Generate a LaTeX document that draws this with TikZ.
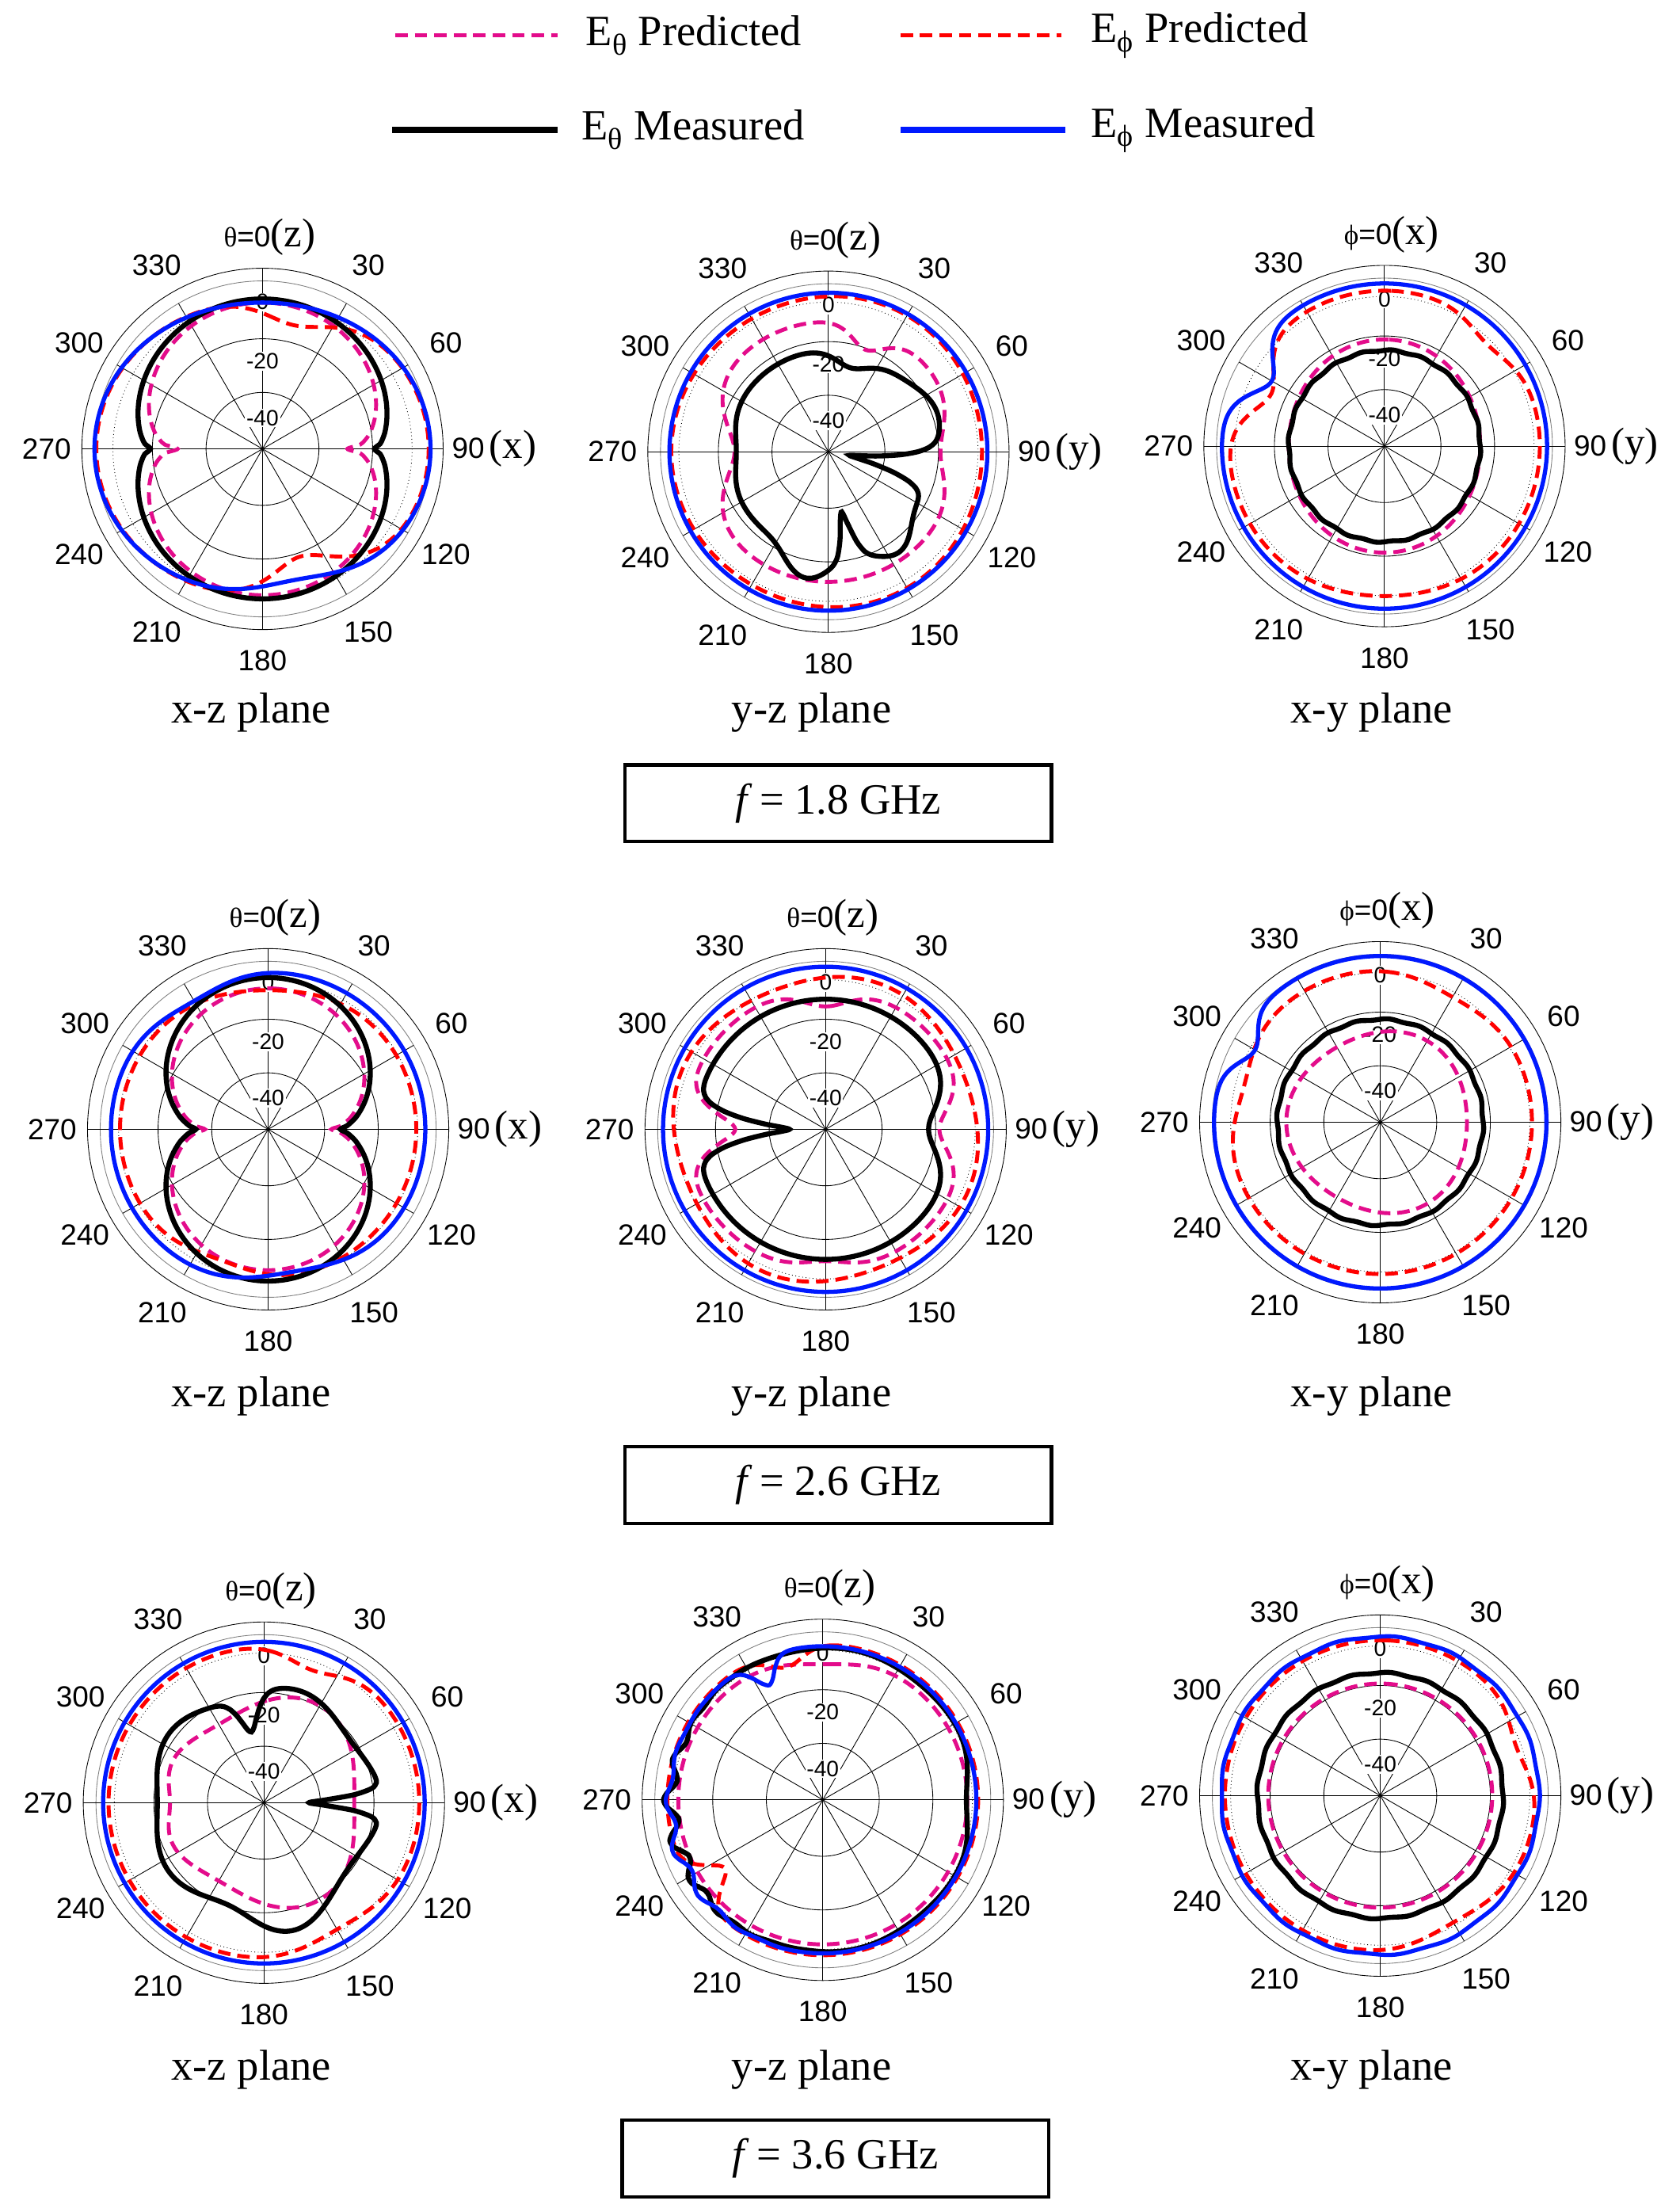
\documentclass[tikz,border=0pt]{standalone}
\usepackage{fontspec}
\setmainfont{Liberation Serif}
\newfontfamily\lab{Liberation Sans}
\begin{document}
\begin{tikzpicture}[x=0.0356cm,y=-0.0356cm,
  declare function={gb(\t,\c,\w)=exp(-((mod(\t-\c+540,360)-180)/\w)^2);},
  ethp/.style={magenta!90!violet,line width=2.8pt,dash pattern=on 9pt off 5pt},
  ephp/.style={red,line width=2.8pt,dash pattern=on 9pt off 5pt},
  ethm/.style={black,line width=3.6pt},
  ephm/.style={blue!90!cyan,line width=3pt},
  gridl/.style={black,line width=0.5pt},
  tick/.style={font=\lab\fontsize{21}{21}\selectfont,inner sep=0pt},
  dbl/.style={font=\lab\fontsize{16}{16}\selectfont,inner sep=1pt,fill=white},
  ptxt/.style={font=\fontsize{31}{31}\selectfont,inner sep=0pt},
  fbox/.style={draw,line width=2.5pt,minimum width=306,minimum height=55,font=\fontsize{31}{31}\selectfont}]
\useasboundingbox (0,0) rectangle (1190,1567);
\newcommand\pgrid[5]{% cx cy lettertop letterside topsymbol
  \begin{scope}[shift={(#1,#2)}]
  \draw[gridl] (0,0) circle (128);
  \draw[gridl,gray] (0,0) circle (119);
  \draw[gridl,dotted] (0,0) circle (106);
  \draw[gridl] (0,0) circle (78);
  \draw[gridl] (0,0) circle (40);
  \foreach \a in {0,30,...,330}{\draw[gridl] (0,0) -- ({119*sin(\a)},{-119*cos(\a)});}
  \draw[gridl] (-128,0) -- (128,0); \draw[gridl] (0,-128) -- (0,128);
  \node[dbl] at (0,-104) {0};
  \node[dbl] at (0,-62) {-20};
  \node[dbl] at (0,-22) {-40};
  \foreach \a in {30,60,120,150,180,210,240,300,330}{\node[tick] at ({150*sin(\a)},{-150*cos(\a)}) {\a};}
  \node[tick] at (-153,0) {270};
  \node[tick,anchor=west] at (134,0) {90\,{\rmfamily\fontsize{29}{29}\selectfont(#4)}};
  \node[inner sep=0pt] at (5,-150) {{\rmfamily\fontsize{20}{20}\selectfont #5}{\lab\fontsize{21}{21}\selectfont =0}{\rmfamily\fontsize{29}{29}\selectfont (#3)}};
  \end{scope}}
\newcommand\pcurve[4]{% cx cy style expr
  \draw[#3] plot[smooth cycle,domain=0:357.5,samples=144,variable=\t] ({#1+128*(#4)*sin(\t)},{#2-128*(#4)*cos(\t)});}
% legend
\draw[ethp] (280,25) -- (395,25); \node[ptxt,anchor=west] at (415,25) {E\textsubscript{θ} Predicted};
\draw[ephp] (638,25) -- (752,25); \node[ptxt,anchor=west] at (773,25) {E\textsubscript{ϕ} Predicted};
\draw[ethm,line width=4.5pt] (278,92) -- (395,92); \node[ptxt,anchor=west] at (412,92) {E\textsubscript{θ} Measured};
\draw[ephm,line width=4.5pt] (638,92) -- (755,92); \node[ptxt,anchor=west] at (773,92) {E\textsubscript{ϕ} Measured};
% grids
\pgrid{186}{318}{z}{x}{θ}
\pgrid{587}{320}{z}{y}{θ}
\pgrid{981}{316}{x}{y}{ϕ}
\pgrid{190}{800}{z}{x}{θ}
\pgrid{585}{800}{z}{y}{θ}
\pgrid{978}{795}{x}{y}{ϕ}
\pgrid{187}{1277}{z}{x}{θ}
\pgrid{583}{1275}{z}{y}{θ}
\pgrid{978}{1272}{x}{y}{ϕ}
% row 1
\pcurve{186}{318}{ethp}{0.47+0.34*abs(cos(\t))^0.5}
\pcurve{186}{318}{ephp}{0.92-0.1*cos(\t)^2-0.12*gb(\t,15,20)-0.2*gb(\t,160,22)}
\pcurve{186}{318}{ethm}{0.62+0.21*abs(cos(\t))^0.6}
\pcurve{186}{318}{ephm}{0.93-0.12*cos(\t)^2-0.07*gb(\t,165,25)}
\pcurve{587}{320}{ethp}{0.72-0.2*gb(\t,270,25)-0.1*gb(\t,90,20)-0.12*gb(\t,20,12)}
\pcurve{587}{320}{ephp}{0.86+0.01*sin(3*\t)}
\pcurve{587}{320}{ethm}{0.56+0.08*gb(\t,70,20)-0.45*gb(\t,100,8)+0.12*gb(\t,145,15)-0.25*gb(\t,168,5)+0.15*gb(\t,190,15)-0.05*gb(\t,270,20)-0.08*gb(\t,15,15)}
\pcurve{587}{320}{ephm}{0.88}
\pcurve{981}{316}{ethp}{0.56+0.03*cos(2*\t)}
\pcurve{981}{316}{ephp}{0.86-0.17*gb(\t,295,15)-0.06*gb(\t,45,15)-0.03*gb(\t,180,30)}
\pcurve{981}{316}{ethm}{0.53+0.004*sin(20*\t)}
\pcurve{981}{316}{ephm}{0.9-0.18*gb(\t,300,12)}
% row 2
\pcurve{190}{800}{ethp}{0.35+0.43*abs(cos(\t))^0.7}
\pcurve{190}{800}{ephp}{0.82-0.05*gb(\t,0,30)-0.05*gb(\t,200,20)}
\pcurve{190}{800}{ethm}{0.4+0.44*abs(cos(\t))^0.8}
\pcurve{190}{800}{ephm}{0.87-0.07*gb(\t,170,25)-0.05*gb(\t,330,20)}
\pcurve{585}{800}{ethp}{0.78-0.28*gb(\t,270,12)-0.15*gb(\t,90,15)-0.1*gb(\t,0,15)-0.05*gb(\t,180,15)}
\pcurve{585}{800}{ephp}{0.84+0.02*sin(4*\t)}
\pcurve{585}{800}{ethm}{0.72-0.52*gb(\t,270,9)-0.15*gb(\t,90,18)}
\pcurve{585}{800}{ephm}{0.9}
\pcurve{978}{795}{ethp}{0.5+0.02*sin(3*\t)}
\pcurve{978}{795}{ephp}{0.84-0.06*gb(\t,285,20)-0.04*gb(\t,30,20)}
\pcurve{978}{795}{ethm}{0.57+0.004*sin(20*\t)}
\pcurve{978}{795}{ephm}{0.92-0.12*gb(\t,300,10)}
% row 3
\pcurve{187}{1277}{ethp}{0.56+0.06*sin(3*\t)-0.1*gb(\t,270,20)}
\pcurve{187}{1277}{ephp}{0.86-0.08*gb(\t,20,15)-0.05*gb(\t,150,20)}
\pcurve{187}{1277}{ethm}{0.62-0.4*gb(\t,90,5)-0.2*gb(\t,350,8)+0.08*gb(\t,170,20)+0.03*sin(5*\t)}
\pcurve{187}{1277}{ephm}{0.89}
\pcurve{583}{1275}{ethp}{0.8-0.05*gb(\t,0,20)}
\pcurve{583}{1275}{ephp}{0.86-0.2*gb(\t,235,8)-0.1*gb(\t,345,10)}
\pcurve{583}{1275}{ethm}{0.84+0.04*sin(23*\t)*gb(\t,260,35)-0.04*gb(\t,90,15)+0.005*sin(7*\t)}
\pcurve{583}{1275}{ephm}{0.85+0.03*sin(19*\t)*gb(\t,250,30)-0.15*gb(\t,335,6)}
\pcurve{978}{1272}{ethp}{0.62}
\pcurve{978}{1272}{ephp}{0.86-0.06*gb(\t,70,15)-0.05*gb(\t,150,20)}
\pcurve{978}{1272}{ethm}{0.68+0.004*sin(20*\t)}
\pcurve{978}{1272}{ephm}{0.88+0.004*sin(17*\t)}
% plane labels
\foreach \y in {505,989,1466}{
  \node[ptxt] at (178,\y) {x-z plane};
  \node[ptxt] at (575,\y) {y-z plane};
  \node[ptxt] at (972,\y) {x-y plane};}
\node[fbox] (b1) at (594,569) {\textit{f}\,= 1.8 GHz};
\node[fbox] (b2) at (594,1052) {\textit{f}\,= 2.6 GHz};
\node[fbox] (b3) at (592,1529) {\textit{f}\,= 3.6 GHz};
\end{tikzpicture}
\end{document}
